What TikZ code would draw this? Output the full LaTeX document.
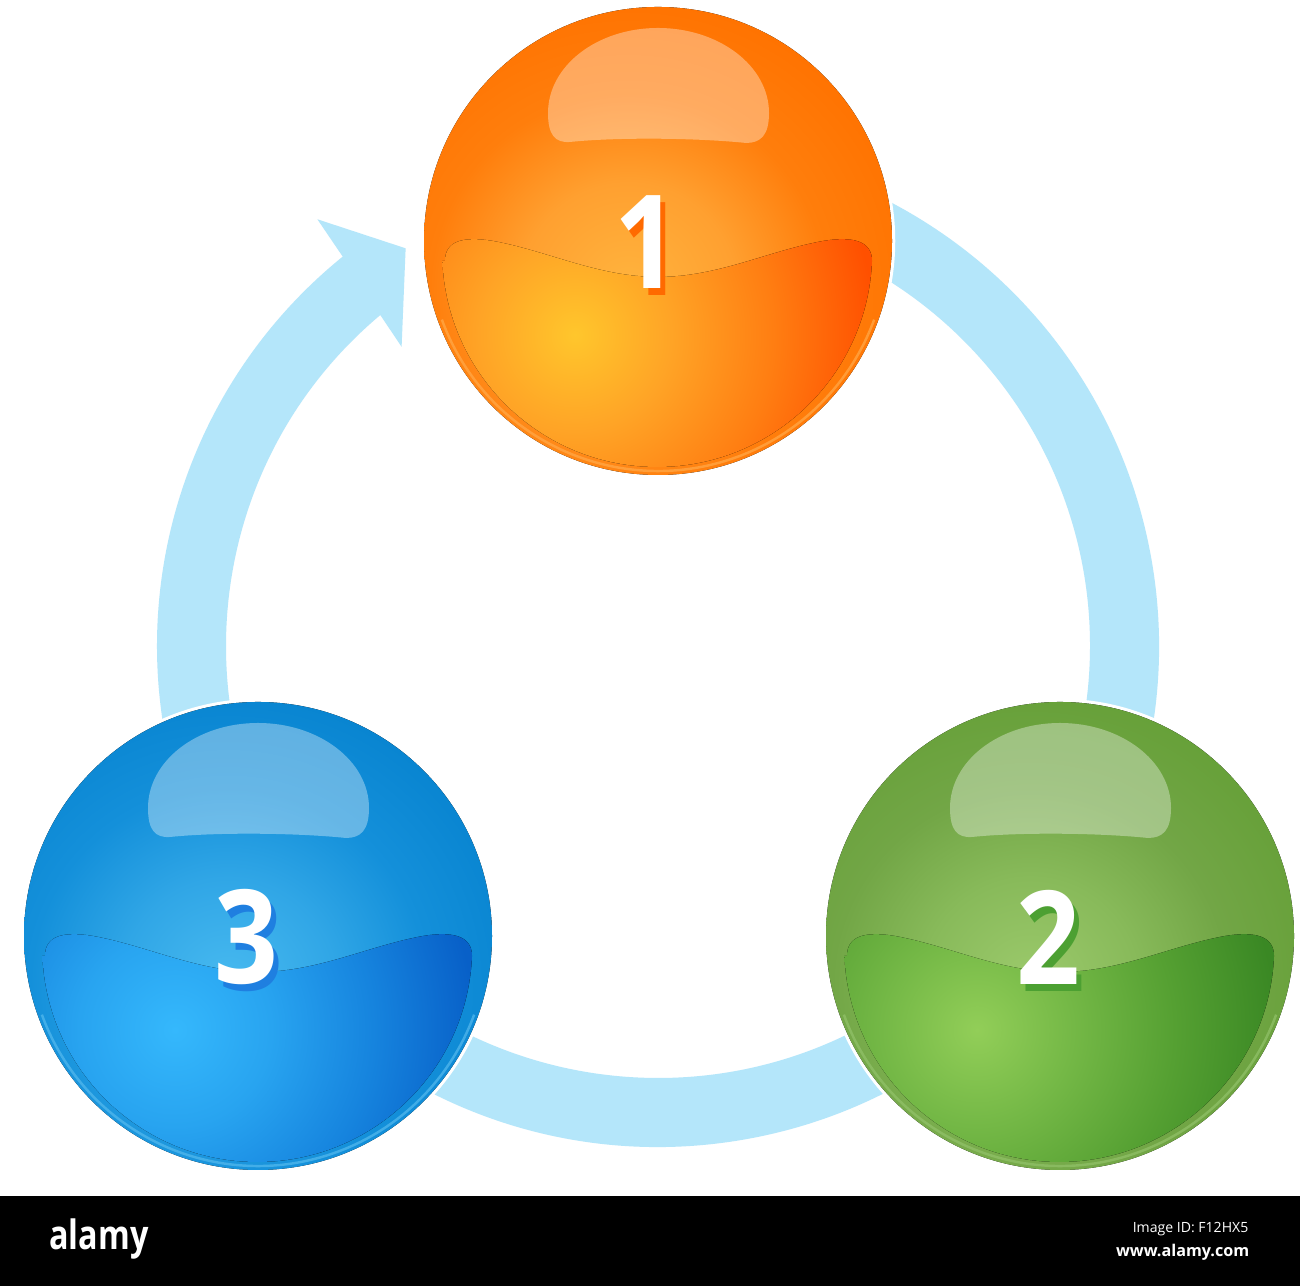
\documentclass[tikz,border=0pt]{standalone}
\usepackage{fontspec}
\setmainfont{Open Sans}
\usetikzlibrary{calc}

% orange
\definecolor{ob0}{HTML}{FFB43E}\definecolor{ob1}{HTML}{FFA030}\definecolor{ob2}{HTML}{FF7E0C}\definecolor{ob3}{HTML}{FF7200}
\definecolor{ol0}{HTML}{FFC62C}\definecolor{ol1}{HTML}{FFA426}\definecolor{ol2}{HTML}{FF7E12}\definecolor{ol3}{HTML}{FF5000}
\definecolor{osh}{HTML}{FF6A00}\definecolor{orim}{HTML}{FFAA4A}
% blue
\definecolor{bb0}{HTML}{48BAF0}\definecolor{bb1}{HTML}{30A6E6}\definecolor{bb2}{HTML}{1490DA}\definecolor{bb3}{HTML}{0884D0}
\definecolor{bl0}{HTML}{35B8FC}\definecolor{bl1}{HTML}{28A4F0}\definecolor{bl2}{HTML}{1684DE}\definecolor{bl3}{HTML}{0860C8}
\definecolor{bsh}{HTML}{1F7FE0}\definecolor{brim}{HTML}{55BAEE}
% green
\definecolor{gb0}{HTML}{9CCA6C}\definecolor{gb1}{HTML}{88BA5A}\definecolor{gb2}{HTML}{72A646}\definecolor{gb3}{HTML}{66A038}
\definecolor{gl0}{HTML}{92CE58}\definecolor{gl1}{HTML}{74B846}\definecolor{gl2}{HTML}{55A032}\definecolor{gl3}{HTML}{3A8824}
\definecolor{gsh}{HTML}{4CA032}\definecolor{grim}{HTML}{92C26A}
\definecolor{ringblue}{HTML}{B4E6FA}

% the central 50bp square of a shading is fitted to the path: half width = 25bp
\pgfdeclareradialshading{obase}{\pgfpointorigin}{color(0bp)=(ob0); color(9bp)=(ob1); color(16.5bp)=(ob2); color(25bp)=(ob3); color(50bp)=(ob3)}
\pgfdeclareradialshading{olobe}{\pgfpointorigin}{color(0bp)=(ol0); color(8bp)=(ol1); color(16.5bp)=(ol2); color(25bp)=(ol3); color(50bp)=(ol3)}
\pgfdeclareradialshading{bbase}{\pgfpointorigin}{color(0bp)=(bb0); color(9bp)=(bb1); color(16.5bp)=(bb2); color(25bp)=(bb3); color(50bp)=(bb3)}
\pgfdeclareradialshading{blobe}{\pgfpointorigin}{color(0bp)=(bl0); color(8bp)=(bl1); color(16.5bp)=(bl2); color(25bp)=(bl3); color(50bp)=(bl3)}
\pgfdeclareradialshading{gbase}{\pgfpointorigin}{color(0bp)=(gb0); color(9bp)=(gb1); color(16.5bp)=(gb2); color(25bp)=(gb3); color(50bp)=(gb3)}
\pgfdeclareradialshading{globe}{\pgfpointorigin}{color(0bp)=(gl0); color(8bp)=(gl1); color(16.5bp)=(gl2); color(25bp)=(gl3); color(50bp)=(gl3)}

\newcommand\lobepath{(-213,-20) .. controls (-213,0) and (-195,5) .. (-165,0)
  .. controls (-110,-10) and (-60,-36) .. (0,-36)
  .. controls (60,-36) and (110,-10) .. (165,0)
  .. controls (195,5) and (214,0) .. (214,-20)
  arc[start angle=-2.4, end angle=-177.6, radius=215] -- cycle}
\newcommand\hlpath{(-110,128) .. controls (-110,175) and (-61,213) .. (0,213)
  .. controls (61,213) and (111,175) .. (111,128)
  .. controls (111,106) and (103,98) .. (88,98)
  .. controls (40,103) and (-40,104) .. (-88,99)
  .. controls (-103,98) and (-110,106) .. cycle}
\newcommand\numstyle{\fontsize{37}{40}\selectfont\bfseries}
\newcommand\numglyph[2]{\rlap{\smash{\hspace*{0.05cm}\raisebox{-0.07cm}{\color{#1}\scalebox{0.86}[1]{#2}}}}\scalebox{0.86}[1]{#2}}

\newcommand\glossball[4]{%
\begin{scope}[shift={#2}]
  \node[circle, minimum size=4.7cm, inner sep=0pt, fill=#1b3, draw=white, line width=1.2pt] (#4) at (0,0) {};
  \begin{scope}
    \clip (0,0) circle (234);
    \fill[shading=#1base] (-330,-350) rectangle (270,250);
    \begin{scope}
      \clip \lobepath;
      \fill[shading=#1lobe] (-383,-394) rectangle (217,206);
    \end{scope}
    \draw[draw=#1rim, line width=0.7pt, opacity=0.7] (200:230) arc[start angle=200, end angle=340, radius=230];
  \end{scope}
  \fill[white, fill opacity=0.35] \hlpath;
  \node[font=\numstyle, inner sep=0pt, text=white] (#4num) at (-12,-1) {\numglyph{#1sh}{#3}};
\end{scope}}

\begin{document}
\begin{tikzpicture}[x=0.01cm, y=0.01cm]
\useasboundingbox (0,0) rectangle (1300,1286);
\fill[white] (0,0) rectangle (1300,1286);
\coordinate (C) at (658,640);

% ring arrow
\fill[ringblue] ($(C)+(100:501)$) arc[start angle=100, end angle=-231, radius=501]
  -- ($(C)+(128.6:546)$) -- ($(C)+(122.4:471)$) -- ($(C)+(130.6:394)$)
  -- ($(C)+(130:432)$) arc[start angle=-230, end angle=100, radius=432] -- cycle;

\glossball{o}{(658,1045)}{1}{s1}
\glossball{g}{(1060,350)}{2}{s2}
\glossball{b}{(258,350)}{3}{s3}

% bottom bar
\fill[black] (0,0) rectangle (1300,90);
\node[text=white, font=\fontsize{11.5}{12}\selectfont\bfseries, anchor=base, inner sep=0pt] (logo) at (99,36) {\scalebox{0.8}[1]{alamy}};
\node[text=white, font=\fontsize{4}{5}\selectfont, anchor=base east, inner sep=0pt] (imgid) at (1249,53) {Image ID: F12HX5};
\node[text=white, font=\fontsize{4.6}{5.5}\selectfont\bfseries, anchor=base east, inner sep=0pt] (www) at (1250,29) {www.alamy.com};
\end{tikzpicture}
\end{document}
